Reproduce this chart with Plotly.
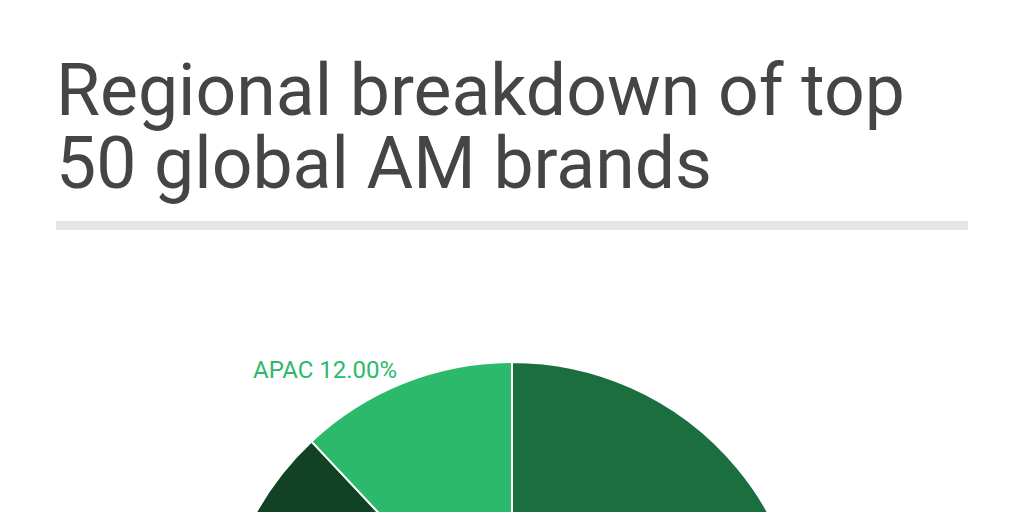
import plotly.graph_objects as go

# slice data (only APAC is readable in the picture, the rest is estimated)
regions = ["North America", "Europe", "APAC"]
shares = [56, 32, 12]
colors = ["#1b6e3e", "#114225", "#2db96b"]

title_lines = ["Regional breakdown of top", "50 global AM brands"]

# the page body has an 8px margin, so screen px -> paper coords
W, H = 1008, 1000
OFF = 8


def px_x(x):
    return (x - OFF) / W


def px_y(y):
    return 1 - (y - OFF) / H


fig = go.Figure(go.Pie(
    labels=regions,
    values=shares,
    sort=False,
    direction="clockwise",
    rotation=0,
    marker=dict(colors=colors, line=dict(color="white", width=2)),
    texttemplate="%{label} %{percent:.2%}",
    textposition="outside",
    textfont=dict(family="Roboto", size=24, color=colors),
    domain=dict(x=[0, 1], y=[px_y(948), px_y(362)]),
    automargin=False,
    hoverinfo="skip",
    showlegend=False,
))

# title as two annotations to get the tight line spacing
for i, line in enumerate(title_lines):
    fig.add_annotation(
        text=line, xref="paper", yref="paper",
        x=px_x(54), y=px_y(134 + 73 * i),
        xanchor="left", yanchor="bottom", showarrow=False,
        font=dict(family="Roboto", size=71.5, color="#454545"),
    )

# grey rule under the title
fig.add_shape(type="rect", xref="paper", yref="paper",
              x0=px_x(56), x1=px_x(968), y0=px_y(230), y1=px_y(221),
              fillcolor="#e6e6e6", line=dict(width=0))

fig.update_layout(
    width=W, height=H,
    margin=dict(l=0, r=0, t=0, b=0, autoexpand=False),
    paper_bgcolor="white",
    plot_bgcolor="white",
)

fig.write_html("out.html")
